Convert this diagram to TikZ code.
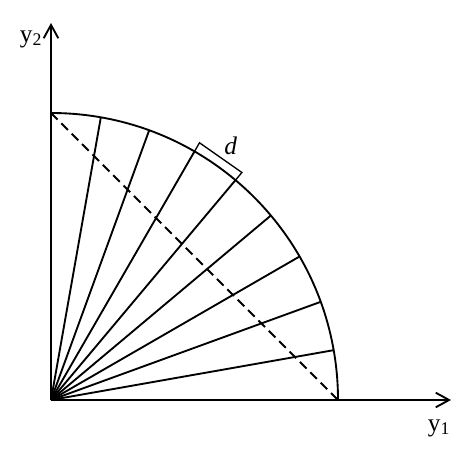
\documentclass[tikz,border=0pt]{standalone}
\usepackage{fontspec}
\setmainfont{Liberation Serif}
\usepackage{tikz}
\usetikzlibrary{arrows.meta}

\tikzset{
    axis/.style={line width=1.4pt,-{Straight Barb[length=10pt,width=11pt]}},
    ray/.style={line width=1.4pt},
    lbl/.style={font=\fontsize{19pt}{23pt}\selectfont}
}

\begin{document}
\begin{tikzpicture}[x=0.75pt,y=0.75pt]
    \useasboundingbox (-51,-60) rectangle (423,400);
    \coordinate (O) at (0,0);
    \coordinate (Y1) at (400,0);
    \coordinate (Y2) at (0,377);
    \coordinate (A) at (287,0);
    \coordinate (B) at (0,287);
    % axes
    \draw[axis] (O) -- (Y1);
    \draw[axis] (O) -- (Y2);
    \node[lbl] (y1) at (388,-28) {y\textsubscript{1}};
    \node[lbl] (y2) at (-20,361) {y\textsubscript{2}};
    % quarter circle and rays
    \draw[ray] (A) arc (0:90:287);
    \foreach \a in {10,20,...,80}
        \draw[ray] (O) -- (\a:287);
    \draw[ray,dash pattern=on 7pt off 4pt] (B) -- (A);
    % width d
    \draw[line width=1pt] (60:287) -- (60:297) -- (50:297) -- (50:287);
    \node[lbl] (d) at (54.7:311) {\textit{d}};
\end{tikzpicture}
\end{document}
